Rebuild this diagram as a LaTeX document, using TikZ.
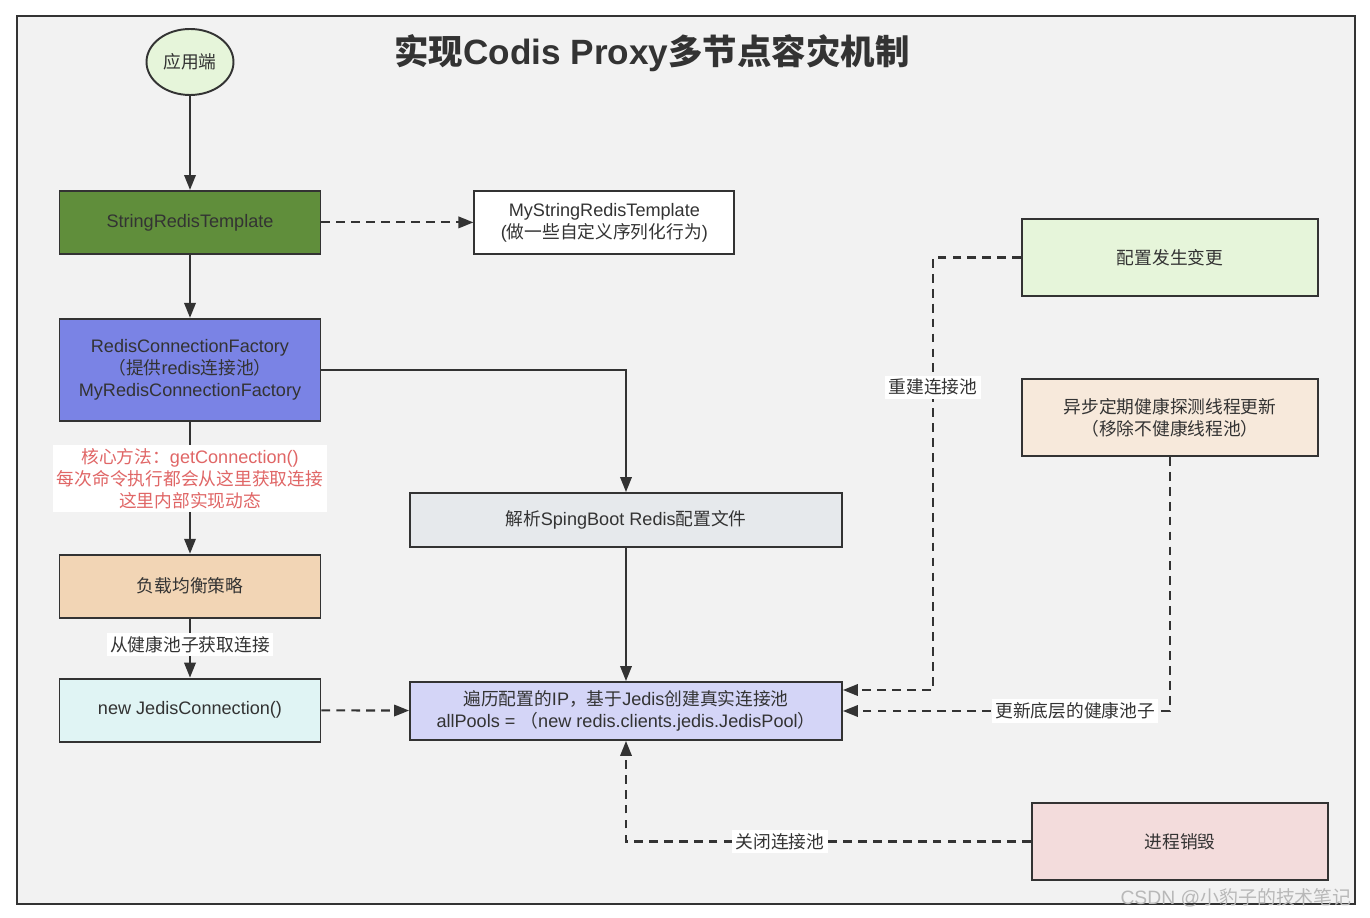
\documentclass[tikz,border=0pt]{standalone}
\usepackage{fontspec}
\setmainfont{Liberation Sans}
\newfontfamily\zhfont{Noto Sans CJK SC}[Scale=0.98]
\newcommand{\zh}[1]{{\zhfont #1}}
\usepackage{tikz}
\usetikzlibrary{positioning, arrows.meta, shapes.geometric}
\definecolor{FrameGray}{HTML}{F2F2F2}
\definecolor{LineGray}{HTML}{333333}
\definecolor{TextGray}{HTML}{333333}
\definecolor{ClientGreen}{HTML}{E6F5DA}
\definecolor{SrtGreen}{HTML}{608E3B}
\definecolor{RcfBlue}{HTML}{7A83E5}
\definecolor{LbPeach}{HTML}{F2D5B5}
\definecolor{JedisCyan}{HTML}{E0F4F4}
\definecolor{ParseGray}{HTML}{E6E9EC}
\definecolor{PoolsLav}{HTML}{D4D5F7}
\definecolor{CfgGreen}{HTML}{E6F5DA}
\definecolor{HealthPeach}{HTML}{F7E9DB}
\definecolor{DestroyPink}{HTML}{F3DCDC}
\definecolor{NoteRed}{HTML}{E06666}
\definecolor{MarkGray}{HTML}{B8B8B8}

\begin{document}
\begin{tikzpicture}[
      x=0.02cm, y=-0.02cm,
      node distance=1.0cm,
      every node/.style={align=center, font=\fontsize{10.3}{12.5}\selectfont, text=TextGray},
      box/.style={draw=LineGray, line width=1.1pt, minimum width=5.22cm, minimum height=1.26cm},
      widebox/.style={box, minimum width=8.64cm},
      sidebox/.style={box, minimum width=5.92cm, minimum height=1.54cm},
      arrow/.style={LineGray, line width=1.2pt, -{Triangle[length=8.5pt, width=6.5pt]}},
      dasharrow/.style={arrow, dash pattern=on 5pt off 3.5pt},
      tag/.style={fill=white, inner sep=2pt}
    ]
      \useasboundingbox (0,0) rectangle (1370,918);
      % Frame and title
      \draw[LineGray, line width=1.1pt, fill=FrameGray] (17,16) rectangle (1355,904);
      \node[font=\bfseries\fontsize{20}{24}\selectfont] (title) at (652,53) {\zh{实现}Codis Proxy\zh{多节点容灾机制}};
      % Left column
      \node[ellipse, draw=LineGray, line width=1.1pt, fill=ClientGreen, minimum width=1.74cm, minimum height=1.32cm, inner sep=0pt] (client) at (190,62) {\zh{应用端}};
      \node[box, fill=SrtGreen, below=1.88cm of client] (srt) {StringRedisTemplate};
      \node[box, fill=white, minimum width=5.2cm, right=3.04cm of srt] (mysrt) {MyStringRedisTemplate\\(\zh{做一些自定义序列化行为})};
      \node[box, fill=RcfBlue, minimum height=2.04cm, below=1.26cm of srt] (rcf) {RedisConnectionFactory\\\zh{（提供}redis\zh{连接池）}\\MyRedisConnectionFactory};
      \node[box, fill=LbPeach, below=2.64cm of rcf] (lb) {\zh{负载均衡策略}};
      \node[box, fill=JedisCyan, below=1.18cm of lb] (jedis) {new JedisConnection()};
      % Middle and right
      \node[widebox, fill=ParseGray, minimum height=1.08cm] (parse) at (626,520) {\zh{解析}SpingBoot Redis\zh{配置文件}};
      \node[widebox, fill=PoolsLav, minimum height=1.16cm] (pools) at (626,711) {\zh{遍历配置的}IP\zh{，基于}Jedis\zh{创建真实连接池}\\allPools = \zh{（}new redis.clients.jedis.JedisPool\zh{）}};
      \node[sidebox, fill=CfgGreen] (cfg) at (1170,257.5) {\zh{配置发生变更}};
      \node[sidebox, fill=HealthPeach] (health) at (1170,417.5) {\zh{异步定期健康探测线程更新}\\\zh{（移除不健康线程池）}};
      \node[sidebox, fill=DestroyPink] (destroy) at (1180,841.5) {\zh{进程销毁}};
      % Arrows
      \draw[arrow] (client) -- (srt);
      \draw[arrow] (srt) -- (rcf);
      \draw[dasharrow] (srt) -- (mysrt);
      \draw[arrow] (rcf) -- node[tag, text=NoteRed, pos=0.43] {\zh{核心方法：}getConnection()\\\zh{每次命令执行都会从这里获取连接}\\\zh{这里内部实现动态}} (lb);
      \draw[arrow] (lb) -- node[tag, pos=0.44] {\zh{从健康池子获取连接}} (jedis);
      \draw[dasharrow] (jedis) -- (pools);
      \draw[arrow] (rcf.east) -| (parse.north);
      \draw[arrow] (parse) -- (pools);
      % Pool rebuild / refresh / close
      \draw[dasharrow] (cfg.west) -| node[tag, pos=0.65] {\zh{重建连接池}} ([xshift=1.8cm, yshift=0.42cm]pools.east) -- ([yshift=0.42cm]pools.east);
      \draw[dasharrow] (health.south) |- node[tag, pos=0.645] {\zh{更新底层的健康池子}} (pools.east);
      \draw[dasharrow] (destroy.west) -| node[tag, pos=0.31] {\zh{关闭连接池}} (pools.south);
      \node[anchor=east, text=MarkGray, font=\fontsize{11}{13}\selectfont] (mark) at (1358,898) {CSDN @\zh{小豹子的技术笔记}};
    \end{tikzpicture}
\end{document}
